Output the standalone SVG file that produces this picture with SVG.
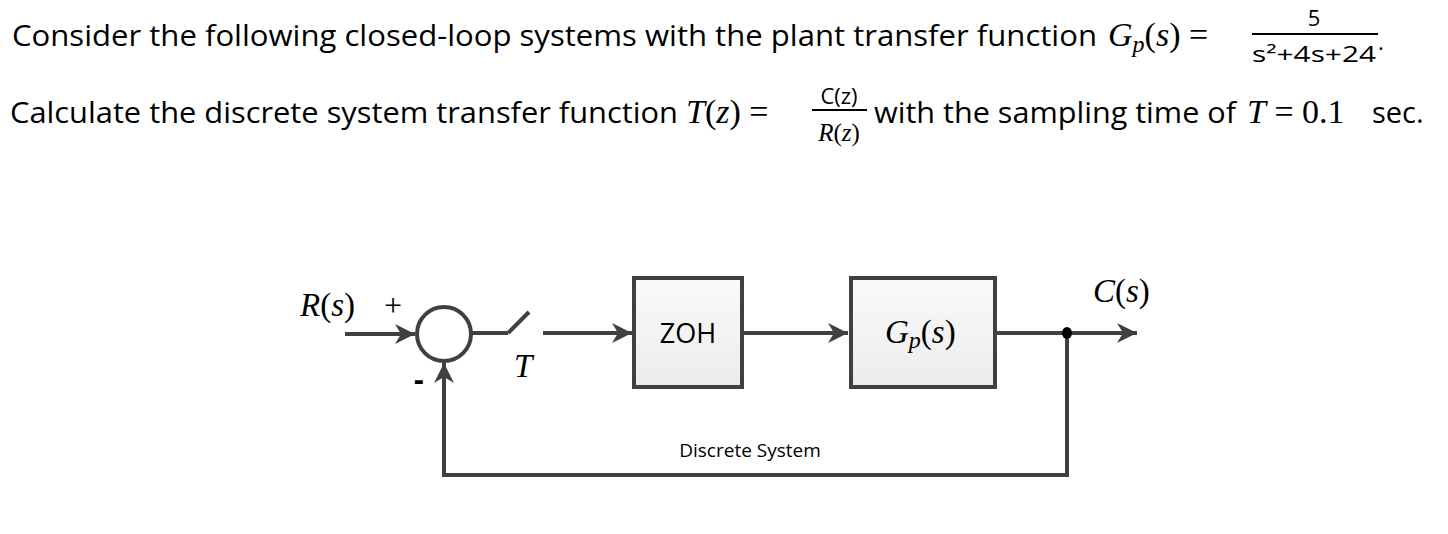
<svg xmlns="http://www.w3.org/2000/svg" width="1448" height="534" viewBox="0 0 1448 534">
<defs>
<style>
.t{font-family:"Open Sans","Liberation Sans",sans-serif;fill:#000}
.m{font-family:"Liberation Serif",serif;font-style:italic;fill:#000}
.r{font-family:"Liberation Serif",serif;fill:#000}
.ln{stroke:#404040;stroke-width:4;fill:none}
.bx{fill:url(#g);stroke:#404040;stroke-width:4}
</style>
<linearGradient id="g" x1="0" y1="0" x2="0" y2="1"><stop offset="0" stop-color="#fafafa"/><stop offset="1" stop-color="#ececec"/></linearGradient>
<marker id="a" viewBox="0 0 10 10" refX="10" refY="5" markerWidth="5" markerHeight="5" orient="auto" markerUnits="strokeWidth"><path d="M0,0L10,5L0,10L3,5z" fill="#404040"/></marker>
</defs>
<rect width="1448" height="534" fill="#fff"/>
<text class="t" x="12" y="46" font-size="29" textLength="1085" lengthAdjust="spacingAndGlyphs">Consider the following closed-loop systems with the plant transfer function</text>
<text class="m" x="1108" y="46" font-size="34">G<tspan font-size="24" dy="6">p</tspan><tspan class="r" font-style="normal" dy="-6">(</tspan>s<tspan class="r" font-style="normal">) =</tspan></text>
<text class="t" x="1314" y="26" font-size="22" text-anchor="middle">5</text>
<line x1="1252" y1="34" x2="1378" y2="34" stroke="#000" stroke-width="2"/>
<text class="t" x="1252" y="62" font-size="22" textLength="124" lengthAdjust="spacingAndGlyphs">s²+4s+24</text>
<text class="t" x="1378" y="50" font-size="22">.</text>
<text class="t" x="10" y="123" font-size="29" textLength="668" lengthAdjust="spacingAndGlyphs">Calculate the discrete system transfer function</text>
<text class="m" x="686" y="123" font-size="34">T<tspan class="r" font-style="normal">(</tspan>z<tspan class="r" font-style="normal">) =</tspan></text>
<text class="t" x="839" y="104" font-size="22" text-anchor="middle">C(z)</text>
<line x1="812" y1="110" x2="867" y2="110" stroke="#000" stroke-width="2"/>
<text class="m" x="839" y="141" font-size="25" text-anchor="middle">R<tspan class="r" font-style="normal">(</tspan>z<tspan class="r" font-style="normal">)</tspan></text>
<text class="t" x="874" y="123" font-size="29" textLength="362" lengthAdjust="spacingAndGlyphs">with the sampling time of</text>
<text class="m" x="1247" y="123" font-size="34">T<tspan class="r" font-style="normal"> = 0.1</tspan></text>
<text class="t" x="1372" y="123" font-size="29">sec.</text>

<g id="connectors">
<line class="ln" x1="345" y1="334" x2="415" y2="334" marker-end="url(#a)"/>
<line class="ln" x1="471" y1="333" x2="508" y2="333"/>
<line class="ln" x1="508" y1="333" x2="529" y2="312"/>
<line class="ln" x1="543" y1="333" x2="632" y2="333" marker-end="url(#a)"/>
<line class="ln" x1="742" y1="333" x2="848" y2="333" marker-end="url(#a)"/>
<line class="ln" x1="995" y1="333" x2="1137" y2="333" marker-end="url(#a)"/>
<polyline class="ln" points="1067,333 1067,475 444,475 444,363" marker-end="url(#a)"/>
<ellipse cx="1067" cy="333" rx="5" ry="6" fill="#000"/>
</g>
<g id="sum"><circle cx="444" cy="334" r="27" fill="#fff" stroke="#404040" stroke-width="4"/></g>
<g id="zoh"><rect class="bx" x="634" y="278" width="108" height="109"/><text class="t" x="688" y="343" font-size="27" text-anchor="middle">ZOH</text></g>
<g id="gp"><rect class="bx" x="851" y="278" width="144" height="109"/><text class="m" x="885" y="343" font-size="33">G<tspan font-size="24" dy="5">p</tspan><tspan class="r" font-style="normal" dy="-5">(</tspan>s<tspan class="r" font-style="normal">)</tspan></text></g>
<text class="m" x="300" y="316" font-size="33">R<tspan class="r" font-style="normal">(</tspan>s<tspan class="r" font-style="normal">)</tspan></text>
<text class="r" x="384" y="316" font-size="32">+</text>
<text class="t" x="414" y="390" font-size="30" font-weight="bold">-</text>
<text class="m" x="514" y="377" font-size="33">T</text>
<text class="m" x="1093" y="302" font-size="33">C<tspan class="r" font-style="normal">(</tspan>s<tspan class="r" font-style="normal">)</tspan></text>
<text class="t" x="750" y="457" font-size="19" text-anchor="middle">Discrete System</text>
</svg>
